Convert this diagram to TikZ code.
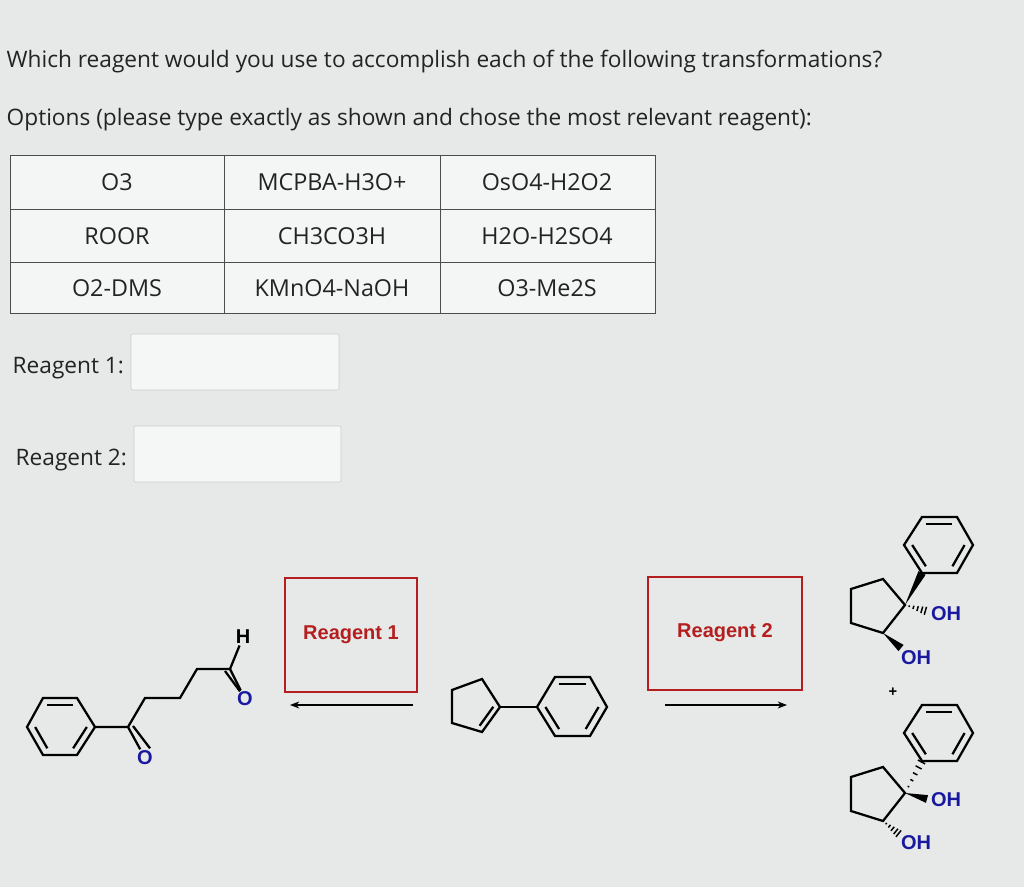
\documentclass[tikz,border=0pt]{standalone}
\usepackage{fontspec}
\setmainfont{Open Sans}
\newfontfamily\molfont{Liberation Sans}
\usetikzlibrary{calc,arrows.meta}
\definecolor{bgcol}{RGB}{231,233,233}
\definecolor{txtcol}{RGB}{35,35,35}
\definecolor{atomblue}{RGB}{25,25,160}
\definecolor{redbox}{RGB}{180,30,30}
\tikzset{
  cell/.style={font=\fontsize{17.5}{20}\selectfont,text=txtcol},
  label/.style={anchor=west,font=\fontsize{17}{20}\selectfont,text=txtcol},
  answer/.style={draw=gray!40,fill=white!60!bgcol,rounded corners=1pt},
  bond/.style={line width=1.7pt,black},
  atom/.style={font=\molfont\bfseries\fontsize{15}{16}\selectfont,text=atomblue,inner sep=1pt},
  hatom/.style={atom,text=black},
  reagbox/.style={draw=redbox,line width=0.8pt},
  reagtext/.style={font=\molfont\bfseries\fontsize{15}{16}\selectfont,text=redbox},
}
% inner line of an aromatic/ring double bond
\newcommand{\ringdb}[3]{\draw[bond] ($(#3)!0.76!(#1)$) -- ($(#3)!0.76!(#2)$);}
\newcommand{\wedgebond}[2]{\fill ($(#1)$) -- ($(#2)!3pt!90:(#1)$) -- ($(#2)!3pt!-90:(#1)$) -- cycle;}
\newcommand{\hashbond}[2]{\foreach \t in {0.2,0.4,0.6,0.8,0.97} {
  \pgfmathsetmacro\hl{\t*3.2}
  \draw[line width=1.1pt] ($($(#1)!\t!(#2)$)!\hl pt!90:(#2)$) -- ($($(#1)!\t!(#2)$)!\hl pt!-90:(#2)$);}}
\begin{document}
\begin{tikzpicture}[x=0.75pt,y=-0.75pt]
\fill[bgcol] (0,0) rectangle (1024,887);
\useasboundingbox (0,0) rectangle (1024,887);

% question
\node[label] (q1) at (2,62) {Which reagent would you use to accomplish each of the following transformations?};
\node[label] (q2) at (2,120) {Options (please type exactly as shown and chose the most relevant reagent):};

% table
\fill[white!55!bgcol] (10,155) rectangle (655,313);
\draw[gray!60!black,line width=0.6pt] (10,155) rectangle (655,313);
\foreach \y in {209,262} \draw[gray!60!black,line width=0.6pt] (10,\y) -- (655,\y);
\foreach \x in {224,440} \draw[gray!60!black,line width=0.6pt] (\x,155) -- (\x,313);
\node[cell] (c11) at (117,182) {O3};
\node[cell] (c12) at (332,182) {MCPBA-H3O+};
\node[cell] (c13) at (547,182) {OsO4-H2O2};
\node[cell] (c21) at (117,236) {ROOR};
\node[cell] (c22) at (332,236) {CH3CO3H};
\node[cell] (c23) at (547,236) {H2O-H2SO4};
\node[cell] (c31) at (117,288) {O2-DMS};
\node[cell] (c32) at (332,288) {KMnO4-NaOH};
\node[cell] (c33) at (547,288) {O3-Me2S};

% answer fields
\node[label] (r1) at (8,368) {Reagent 1:};
\draw[answer] (131,334) rectangle (339,390);
\node[label] (r2) at (11,460) {Reagent 2:};
\draw[answer] (134,426) rectangle (341,482);

% reagent boxes and arrows
\draw[reagbox] (285,578) rectangle (417,692);
\node[reagtext] (rg1) at (351,635) {Reagent 1};
\coordinate (a1s) at (413,705);
\coordinate (a1e) at (290,705);
\draw[line width=0.8pt,-{Stealth[length=7pt]}] (a1s) -- (a1e);
\draw[reagbox] (648,577) rectangle (802,690);
\node[reagtext] (rg2) at (725,633) {Reagent 2};
\coordinate (a2s) at (665,705);
\coordinate (a2e) at (787,705);
\draw[line width=0.8pt,-{Stealth[length=7pt]}] (a2s) -- (a2e);

% keto aldehyde
\coordinate (b1) at (43,698); \coordinate (b2) at (77,698); \coordinate (b3) at (95,727);
\coordinate (b4) at (77,755); \coordinate (b5) at (43,755); \coordinate (b6) at (27,727);
\coordinate (bc) at (61,727);
\draw[bond] (b1)--(b2)--(b3)--(b4)--(b5)--(b6)--cycle;
\ringdb{b1}{b2}{bc} \ringdb{b3}{b4}{bc} \ringdb{b5}{b6}{bc}
\coordinate (k1) at (128,727); \coordinate (k2) at (145,698); \coordinate (k3) at (180,698);
\coordinate (k4) at (197,669); \coordinate (k5) at (230,669);
\node[atom] (ok) at (145,758) {O};
\node[atom] (oa) at (245,699) {O};
\node[hatom] (ha) at (243,637) {H};
\draw[bond] (b3)--(k1)--(k2)--(k3)--(k4)--(k5)--(ha);
\draw[bond] (k1)--(ok);
\draw[bond] ($(k1)+(5,-1)$)--($(ok.north)+(5,-1)$);
\draw[bond] (k5)--(oa);
\draw[bond] ($(k5)+(-5,2)$)--($(oa.north)+(-5,1)$);

% 1-phenylcyclopentene
\coordinate (p1) at (452,690); \coordinate (p2) at (482,679); \coordinate (p3) at (500,707);
\coordinate (p4) at (482,732); \coordinate (p5) at (452,723); \coordinate (pc) at (472,706);
\draw[bond] (p1)--(p2)--(p3)--(p4)--(p5)--cycle;
\ringdb{p3}{p4}{pc}
\coordinate (e1) at (537,707); \coordinate (e2) at (555,677); \coordinate (e3) at (590,677);
\coordinate (e4) at (607,707); \coordinate (e5) at (590,736); \coordinate (e6) at (555,736);
\coordinate (ec) at (572,707);
\draw[bond] (p3)--(e1);
\draw[bond] (e1)--(e2)--(e3)--(e4)--(e5)--(e6)--cycle;
\ringdb{e2}{e3}{ec} \ringdb{e4}{e5}{ec} \ringdb{e6}{e1}{ec}

% diol products
\foreach \dy/\nm in {0/u,188/l} {
  \coordinate (\nm b1) at (922,517+\dy); \coordinate (\nm b2) at (957,517+\dy);
  \coordinate (\nm b3) at (973,545+\dy); \coordinate (\nm b4) at (957,573+\dy);
  \coordinate (\nm b5) at (922,573+\dy); \coordinate (\nm b6) at (904,545+\dy);
  \coordinate (\nm bc) at (938,545+\dy);
  \draw[bond] (\nm b1)--(\nm b2)--(\nm b3)--(\nm b4)--(\nm b5)--(\nm b6)--cycle;
  \ringdb{\nm b1}{\nm b2}{\nm bc} \ringdb{\nm b3}{\nm b4}{\nm bc} \ringdb{\nm b5}{\nm b6}{\nm bc}
  \coordinate (\nm c1) at (905,605+\dy); \coordinate (\nm c2) at (883,579+\dy);
  \coordinate (\nm c3) at (851,589+\dy); \coordinate (\nm c4) at (851,623+\dy);
  \coordinate (\nm c5) at (883,633+\dy);
  \draw[bond] (\nm c1)--(\nm c2)--(\nm c3)--(\nm c4)--(\nm c5)--cycle;
}
\node[atom] (uo1) at (946,614) {OH};
\node[atom] (uo2) at (916,658) {OH};
\coordinate (uw1) at (926,611); \coordinate (uw2) at (901,648);
\wedgebond{uc1}{ub5}
\hashbond{uc1}{uw1}
\wedgebond{uc5}{uw2}
\node[font=\molfont\bfseries\fontsize{11}{11}\selectfont] (plus) at (893,692) {+};
\node[atom] (lo1) at (946,800) {OH};
\node[atom] (lo2) at (916,843) {OH};
\coordinate (lw1) at (927,799); \coordinate (lw2) at (899,834);
\hashbond{lc1}{lb5}
\wedgebond{lc1}{lw1}
\hashbond{lc5}{lw2}
\end{tikzpicture}
\end{document}
